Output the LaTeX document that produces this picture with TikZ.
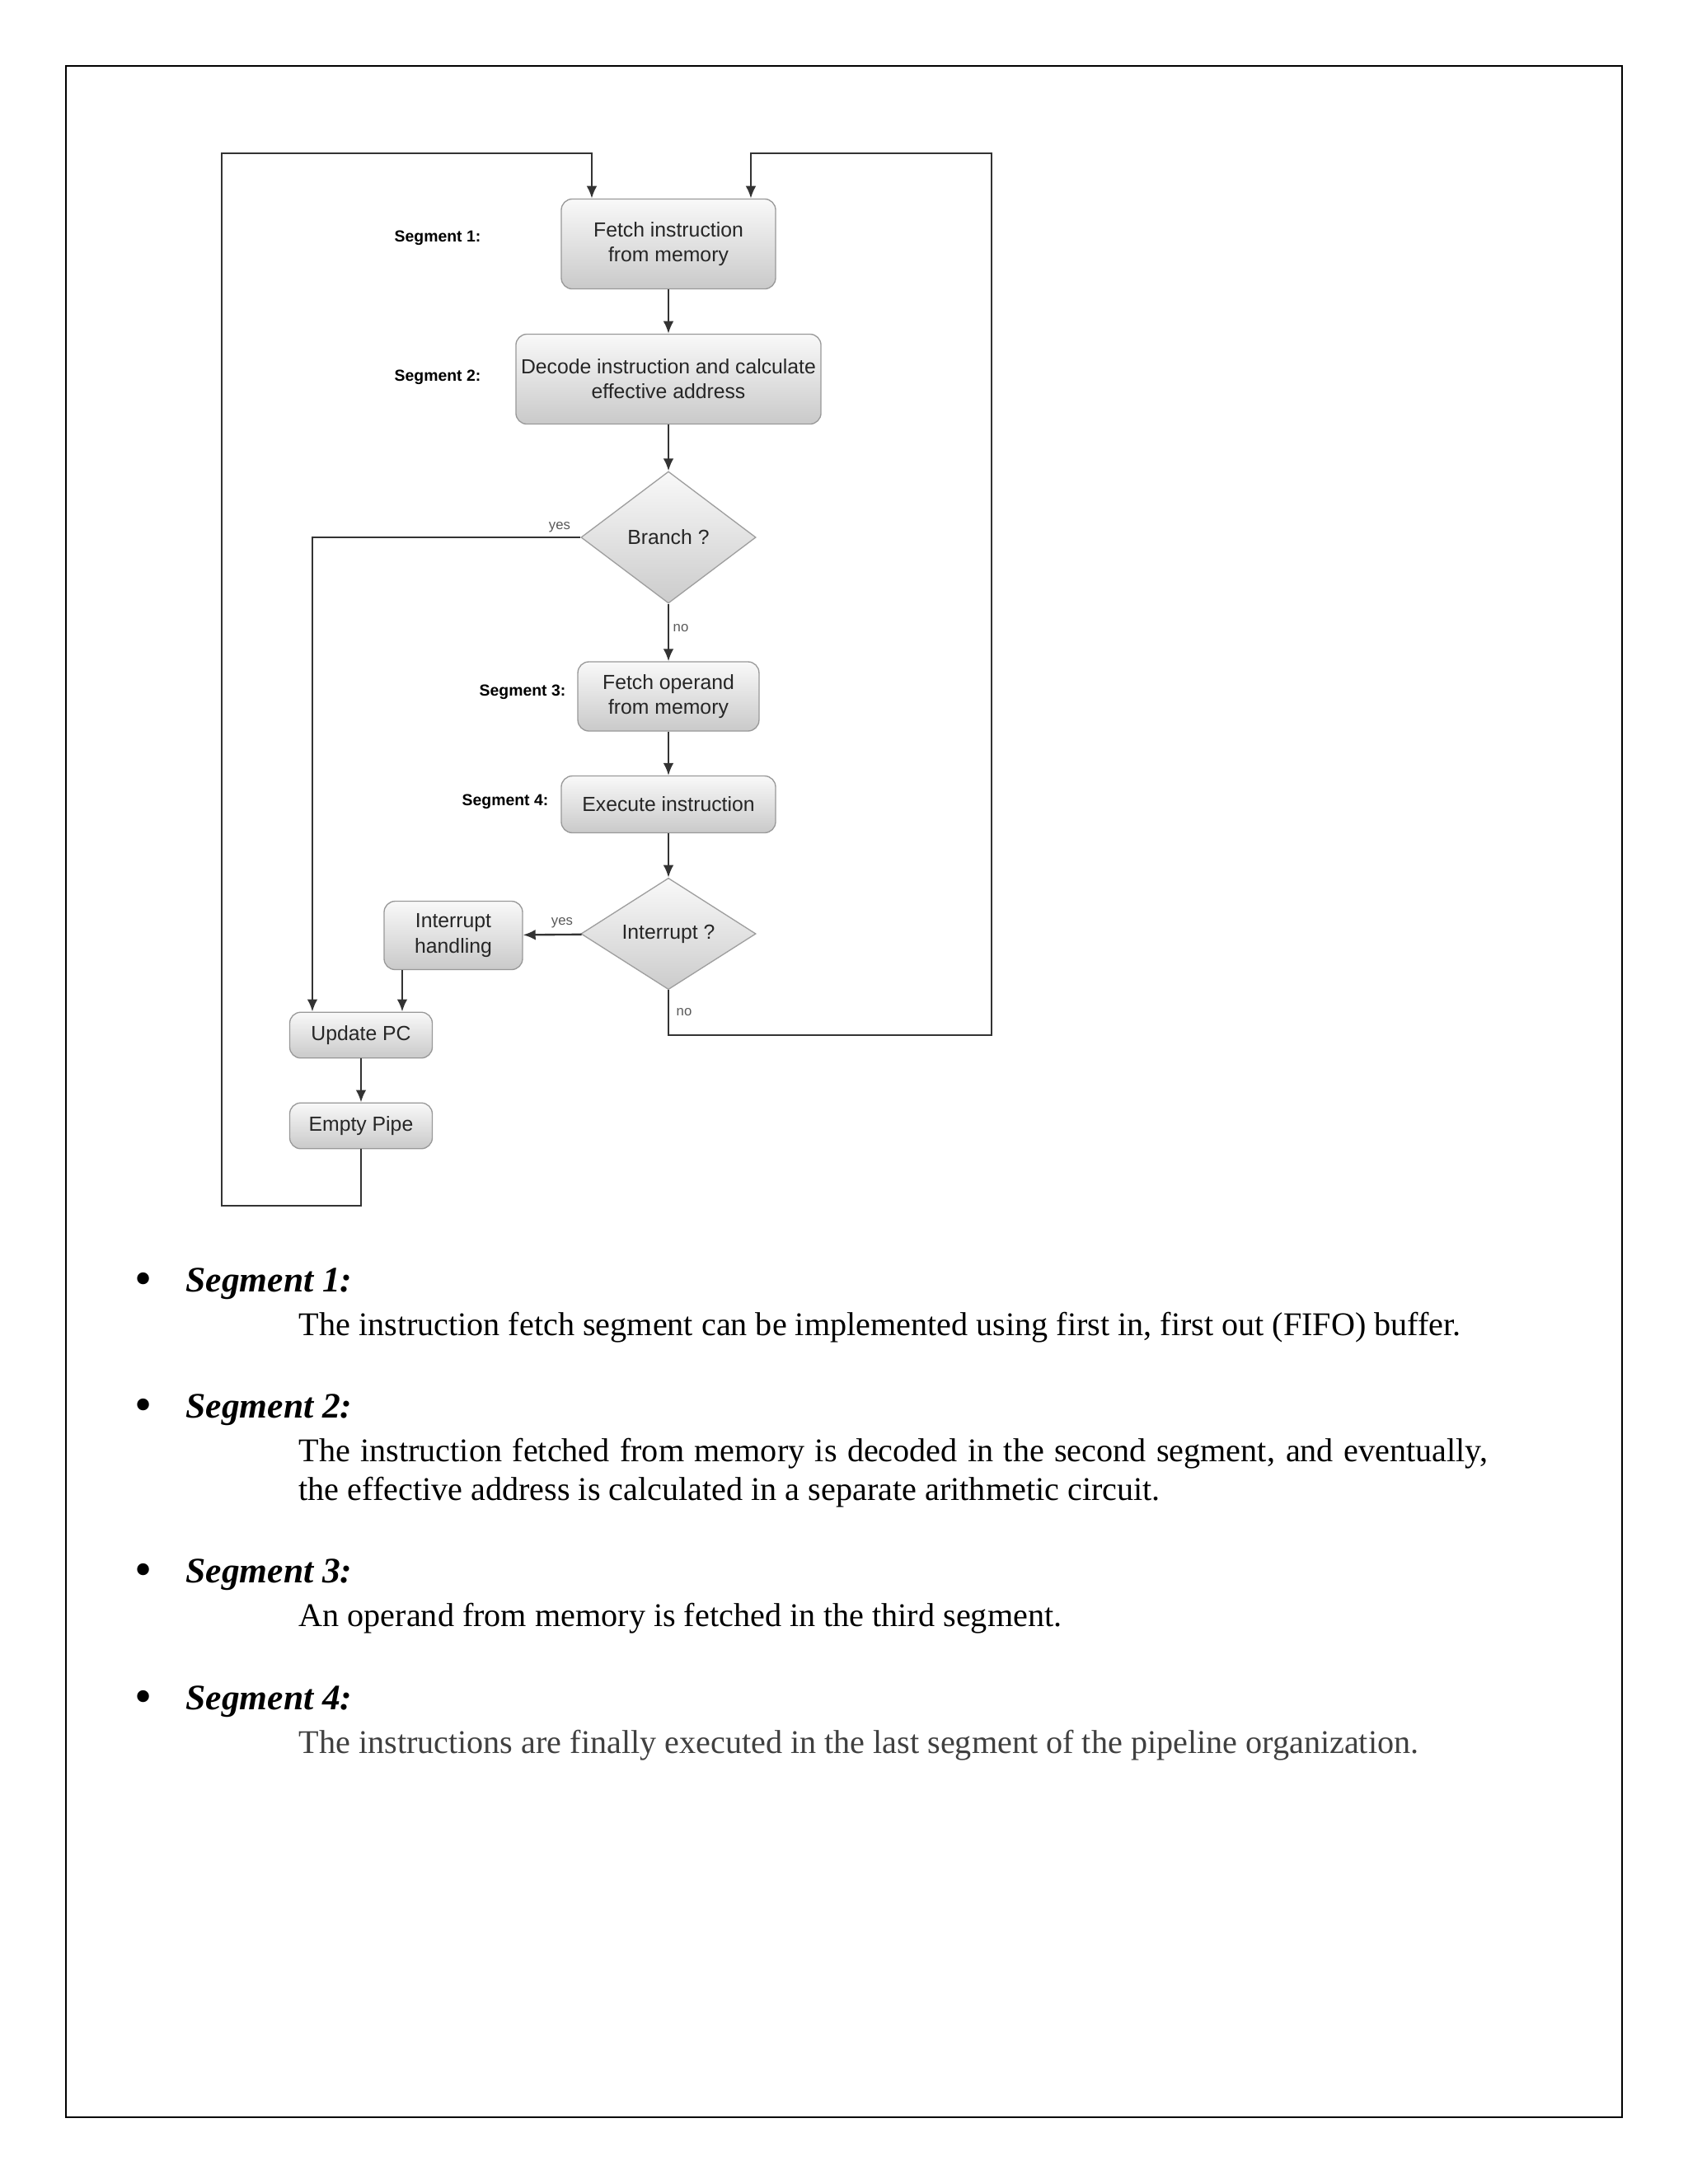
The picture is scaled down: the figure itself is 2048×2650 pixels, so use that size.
\documentclass[tikz,border=0pt]{standalone}
\usepackage{fontspec}
\setmainfont{Liberation Serif}
\newfontfamily\chartfont{Liberation Sans}
\usetikzlibrary{shapes.geometric,arrows.meta,positioning,calc}

\tikzset{
    stage/.style={draw=gray!80, rounded corners=4pt, top color=gray!5, bottom color=gray!42,
        align=center, inner sep=1pt, text=black!85,
        font=\chartfont\fontsize{7.4}{9}\selectfont},
    decision/.style={diamond, draw=gray!75, top color=gray!5, bottom color=gray!40,
        inner sep=0pt, text=black!85, font=\chartfont\fontsize{7.4}{9}\selectfont},
    seglabel/.style={font=\chartfont\bfseries\fontsize{5.8}{7}\selectfont},
    answer/.style={font=\chartfont\fontsize{5}{6}\selectfont, text=gray!70!black},
    arr/.style={draw=black!80, line width=0.7pt, -{Latex[length=4.5pt,width=3.8pt]}},
    heading/.style={anchor=base west, inner sep=0pt, font=\fontsize{13}{15}\selectfont\bfseries\itshape},
    body/.style={anchor=base west, inner sep=0pt, font=\fontsize{12}{14}\selectfont}
}

\begin{document}
\begin{tikzpicture}[x=0.29883pt, y=-0.29883pt]
    \useasboundingbox (0,0) rectangle (2048,2650);
    \fill[white] (0,0) rectangle (2048,2650);
    \draw[line width=0.7pt] (80,80) rectangle (1968,2569);

    % Flowchart boxes
    \node[stage, minimum width=77.7pt, minimum height=32.6pt] (fetch) at (811,296) {Fetch instruction\\from memory};
    \node[stage, minimum width=110.6pt, minimum height=32.6pt] (decode) at (811,460) {Decode instruction and calculate\\effective address};
    \node[decision, minimum width=63.4pt, minimum height=47.8pt] (branch) at (811,652) {Branch ?};
    \node[stage, minimum width=65.7pt, minimum height=25.1pt] (operand) at (811,845) {Fetch operand\\from memory};
    \node[stage, minimum width=77.7pt, minimum height=20.6pt] (execute) at (811,976) {Execute instruction};
    \node[decision, minimum width=63.4pt, minimum height=40pt] (interrupt) at (811,1133) {Interrupt ?};
    \node[stage, minimum width=50.2pt, minimum height=24.8pt] (handling) at (550,1135) {Interrupt\\handling};
    \node[stage, minimum width=51.7pt, minimum height=16.6pt] (updatepc) at (438,1256) {Update PC};
    \node[stage, minimum width=51.7pt, minimum height=16.6pt] (emptypipe) at (438,1366) {Empty Pipe};

    % Segment labels
    \node[seglabel] (s1) at (531,289) {Segment 1:};
    \node[seglabel] (s2) at (531,458) {Segment 2:};
    \node[seglabel] (s3) at (634,840) {Segment 3:};
    \node[seglabel] (s4) at (613,973) {Segment 4:};

    % Loop corners
    \coordinate (yesx) at (379,0);
    \coordinate (hx) at (488,0);
    \coordinate (leftin) at (718,0);
    \coordinate (rightin) at (911,0);
    \coordinate (lbot) at (269,1463);
    \coordinate (ltop) at (269,186);
    \coordinate (rbot) at (1203,1256);
    \coordinate (rtop) at (1203,186);

    % Connectors
    \draw[arr] (fetch) -- (decode);
    \draw[arr] (decode) -- (branch);
    \draw[arr] (branch) -- (operand);
    \draw[arr] (operand) -- (execute);
    \draw[arr] (execute) -- (interrupt);
    \draw[arr] (interrupt) -- (handling);
    \draw[arr] (branch.west) -| (yesx |- updatepc.north);
    \draw[arr] (handling.south -| hx) -- (hx |- updatepc.north);
    \draw[arr] (updatepc) -- (emptypipe);
    \draw[arr] (emptypipe.south) |- (lbot) -- (ltop) -| (leftin |- fetch.north);
    \draw[arr] (interrupt.south) |- (rbot) -- (rtop) -| (rightin |- fetch.north);

    % yes / no
    \node[answer] (y1) at (679,640) {yes};
    \node[answer] (n1) at (826,762) {no};
    \node[answer] (y2) at (682,1120) {yes};
    \node[answer] (n2) at (830,1228) {no};

    % Notes
    \foreach \name/\yy in {b1/1567, b2/1720, b3/1920, b4/2074} {
        \node[anchor=base, inner sep=0pt, font=\fontsize{18}{20}\selectfont] (\name) at (174,\yy+4) {\textbullet};
    }
    \node[heading] (h1) at (225,1567) {Segment 1:};
    \node[body] (t1) at (362,1620) {The instruction fetch segment can be implemented using first in, first out (FIFO) buffer.};
    \node[heading] (h2) at (225,1720) {Segment 2:};
    \node[body, anchor=north west, text width=431pt, align=justify] (t2) at (362,1745)
        {The instruction fetched from memory is decoded in the second segment, and eventually,\linebreak the effective address is calculated in a separate arithmetic circuit.};
    \node[heading] (h3) at (225,1920) {Segment 3:};
    \node[body] (t3) at (362,1973) {An operand from memory is fetched in the third segment.};
    \node[heading] (h4) at (225,2074) {Segment 4:};
    \node[body, text=black!75] (t4) at (362,2127) {The instructions are finally executed in the last segment of the pipeline organization.};
\end{tikzpicture}
\end{document}
